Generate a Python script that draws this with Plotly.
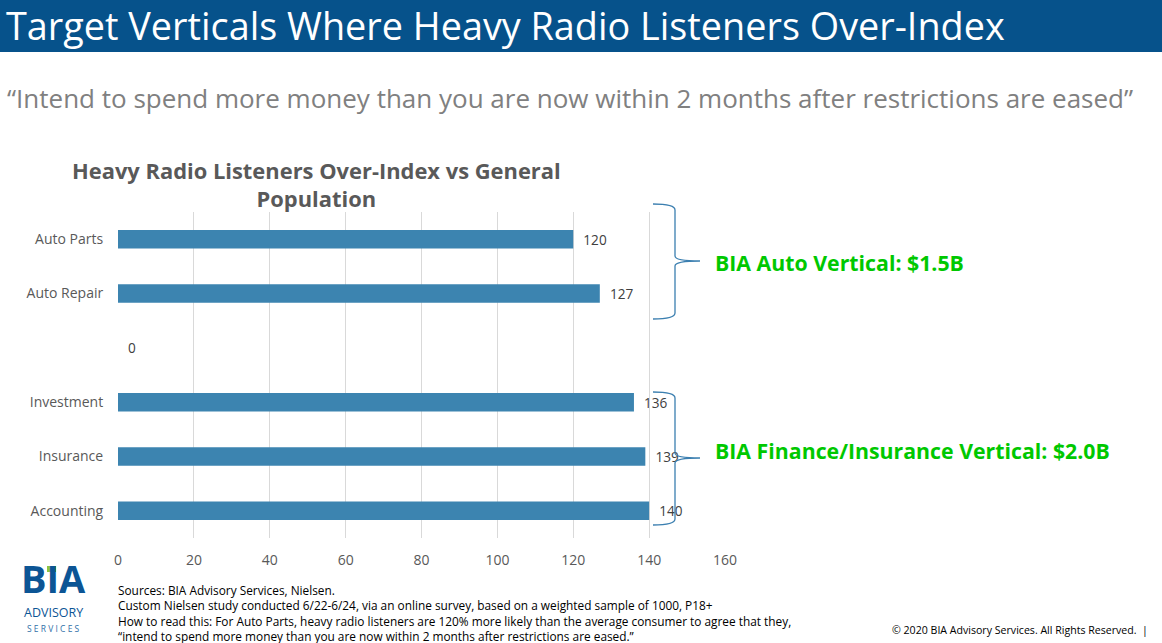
import plotly.graph_objects as go

W, H = 1162, 643

categories = ["Auto Parts", "Auto Repair", " ", "Investment", "Insurance", "Accounting"]
values = [120, 127, 0, 136, 139, 140]
x_ticks = [0, 20, 40, 60, 80, 100, 120, 140, 160]

BAR = "#3C84B0"
GRAY = "#595959"
GREEN = "#00C800"
BAND = "#06528B"
LOGO = "#0C5595"

def px(x):
    return x / W

def py(y):
    return 1 - y / H

fig = go.Figure()
fig.add_trace(go.Bar(
    y=categories, x=values, orientation="h",
    marker=dict(color=BAR, line=dict(width=0)),
    width=0.34,
    text=values, texttemplate="  %{x}", textposition="outside",
    textfont=dict(family="Open Sans", size=14, color="#404040"),
    cliponaxis=False, hoverinfo="skip",
))

fig.update_layout(
    width=W, height=H,
    margin=dict(l=0, r=0, t=0, b=0, pad=0, autoexpand=False),
    paper_bgcolor="white", plot_bgcolor="white",
    showlegend=False,
    xaxis=dict(domain=[px(118), px(725)], range=[0, 160], tickvals=x_ticks,
               showgrid=True, gridcolor="#D9D9D9", gridwidth=1, zeroline=False,
               showline=False, ticks="outside", ticklen=9, tickcolor="rgba(0,0,0,0)",
               automargin=False,
               tickfont=dict(family="Open Sans", size=14, color=GRAY), fixedrange=True),
    yaxis=dict(domain=[py(538), py(212)], categoryorder="array",
               categoryarray=categories[::-1], autorange=True,
               showgrid=False, zeroline=False, showline=False,
               ticks="outside", ticklen=11, tickcolor="rgba(0,0,0,0)",
               automargin=False,
               tickfont=dict(family="Open Sans", size=14, color=GRAY), fixedrange=True),
)

shapes = []
shapes.append(dict(type="rect", xref="paper", yref="paper", x0=0, x1=1,
                   y0=py(52), y1=1, fillcolor=BAND, line=dict(width=0), layer="below"))

def brace(ytop, ymid, ybot, xl=653, xv=675, xt=700):
    p = (f"M {px(xl)},{py(ytop)} "
         f"Q {px(xv)},{py(ytop)} {px(xv)},{py(ytop+6)} "
         f"L {px(xv)},{py(ymid-5)} "
         f"Q {px(xv)},{py(ymid)} {px(xt)},{py(ymid)} "
         f"Q {px(xv)},{py(ymid)} {px(xv)},{py(ymid+5)} "
         f"L {px(xv)},{py(ybot-6)} "
         f"Q {px(xv)},{py(ybot)} {px(xl)},{py(ybot)}")
    return dict(type="path", xref="paper", yref="paper", path=p,
                line=dict(color="#3B7FB0", width=1.3))
shapes.append(brace(204, 261, 319))
shapes.append(brace(392, 458, 525))
shapes.append(dict(type="rect", xref="paper", yref="paper", x0=px(47), x1=px(56),
                   y0=py(572), y1=py(566), fillcolor="#8DC63F", line=dict(width=0)))
fig.update_layout(shapes=shapes)

ann = []
def text(x, y, s, size, color, family="Open Sans", xanchor="left", yanchor="middle", align="left"):
    ann.append(dict(xref="paper", yref="paper", x=px(x), y=py(y), text=s, showarrow=False,
                    xanchor=xanchor, yanchor=yanchor, align=align,
                    font=dict(family=family, size=size, color=color)))

text(4, 25, "Target Verticals Where Heavy Radio Listeners Over-Index", 37.8, "white")
text(5, 98, "\u201cIntend to spend more money than you are now within 2 months after restrictions are eased\u201d", 26, "#808080")
text(316, 184, "<b>Heavy Radio Listeners Over-Index vs General<br>Population</b>", 21.9, GRAY,
     xanchor="center", align="center")
text(713, 262, "<b>BIA Auto Vertical: $1.5B</b>", 21.3, GREEN)
text(713, 450, "<b>BIA Finance/Insurance Vertical: $2.0B</b>", 21.3, GREEN)
text(116, 613, "Sources: BIA Advisory Services, Nielsen.<br>"
     "Custom Nielsen study conducted 6/22-6/24, via an online survey, based on a weighted sample of 1000, P18+<br>"
     "How to read this: For Auto Parts, heavy radio listeners are 120% more likely than the average consumer to agree that they,<br>"
     "\u201cintend to spend more money than you are now within 2 months after restrictions are eased.\u201d",
     11.85, "#000000")
text(1150, 630, "\u00a9 2020 BIA Advisory Services. All Rights Reserved.  |", 10.6, "#000000", xanchor="right")
text(53, 578, "<b>BIA</b>", 38, LOGO, xanchor="center")
text(53, 612, "ADVISORY", 12.5, LOGO, xanchor="center")
text(53, 628, "S E R V I C E S", 8.5, "#2F6FA8", xanchor="center")
fig.update_layout(annotations=ann)

fig.write_html("out.html",
               post_script="document.body.style.margin='0';document.body.style.overflow='hidden';")
